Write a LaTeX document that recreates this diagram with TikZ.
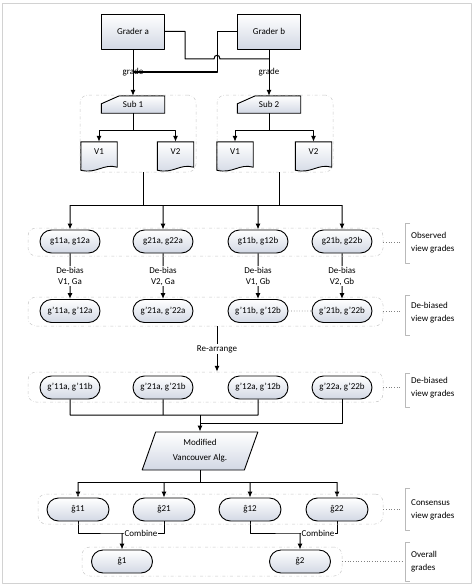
\documentclass[tikz,border=0pt]{standalone}
\usepackage{fontspec}
\setmainfont{Carlito}
\usetikzlibrary{arrows.meta,shapes.geometric,shapes.misc,backgrounds}
\definecolor{shadebot}{RGB}{210,216,228}

\begin{document}
\begin{tikzpicture}[x=1pt, y=-1pt, line join=round, >={Latex[length=6pt,width=5pt]}]

	\tikzset{txt/.style={font=\fontsize{9}{11}\selectfont, inner sep=1pt},
		softfill/.style={top color=white, bottom color=shadebot},
		grader/.style={draw, softfill, line width=0.9pt, minimum width=63pt, minimum height=35pt, txt},
		term/.style={draw, softfill, rounded rectangle, line width=0.9pt, minimum width=62pt, minimum height=23pt, txt},
		grp/.style={draw=gray!45, dash dot, rounded corners=8pt, line width=0.5pt},
		wire/.style={line width=1pt},
		brk/.style={draw=gray!55, line width=0.6pt},
		dots/.style={dotted, gray, line width=0.7pt},
		note/.style={txt, anchor=west, align=left, font=\fontsize{9}{13}\selectfont}}

	\useasboundingbox (0,0) rectangle (474,586);
	\draw[gray!35, line width=1pt] (2,4) rectangle (471,583);

	% graders
	\node[grader] (ga) at (133,31.5) {Grader a};
	\node[grader] (gb) at (269,31.5) {Grader b};
	\coordinate (ja) at (133,72);
	\coordinate (jb) at (269,59);
	\draw[wire] (ga.east) -| (185,59) -- (214,59) .. controls (214,54) and (220,54) .. (220,59) -- (jb);
	\draw[wire] (gb.west) -| (217,72) -- (ja);

	% submissions
	\node[txt, minimum width=63pt, minimum height=17pt] (sub1) at (133,104.5) {Sub 1};
	\node[txt, minimum width=63pt, minimum height=17pt] (sub2) at (269,104.5) {Sub 2};
	\node[txt, minimum width=36pt, minimum height=20pt] (v1a) at (99,152) {V1};
	\node[txt, minimum width=36pt, minimum height=20pt] (v2a) at (175.5,152) {V2};
	\node[txt, minimum width=36pt, minimum height=20pt] (v1b) at (235,152) {V1};
	\node[txt, minimum width=36pt, minimum height=20pt] (v2b) at (313.5,152) {V2};
	\begin{scope}[on background layer]
		\foreach \n in {sub1,sub2}
		\draw[softfill, line width=0.9pt] (\n.south west) -- ([yshift=-8pt]\n.north west) -- ([xshift=18pt]\n.north west) -- (\n.north east) -- (\n.south east) -- cycle;
		\foreach \n in {v1a,v2a,v1b,v2b}
		\draw[softfill, line width=0.9pt] (\n.north west) -- (\n.north east) -- ([yshift=-5pt]\n.south east) .. controls ([xshift=-14pt,yshift=-1pt]\n.south east) and ([xshift=16pt,yshift=-12pt]\n.south west) .. ([yshift=-8pt]\n.south west) -- cycle;
	\end{scope}

	\draw[wire,->] (ga) -- (sub1);
	\draw[wire,->] (gb) -- (sub2);
	\node[txt] (lga) at (133,72) {grade};
	\node[txt] (lgb) at (269,72) {grade};

	\coordinate (sa) at (133,130);
	\coordinate (sb) at (269,130);
	\draw[wire] (sub1) -- (sa);
	\draw[wire,->] (sa) -| (v1a);
	\draw[wire,->] (sa) -| (v2a);
	\draw[wire] (sub2) -- (sb);
	\draw[wire,->] (sb) -| (v1b);
	\draw[wire,->] (sb) -| (v2b);

	\node[grp, minimum width=116pt, minimum height=77pt] (s1) at (138,133.5) {};
	\node[grp, minimum width=116pt, minimum height=77pt] (s2) at (275,133.5) {};

	% observed view grades
	\foreach \n/\x/\t in {r1a/70/{g11a, g12a}, r1b/163/{g21a, g22a}, r1c/258/{g11b, g12b}, r1d/342/{g21b, g22b}}
	\node[term] (\n) at (\x,241.5) {\t};
	\coordinate (ra) at (143,205);
	\coordinate (rb) at (279,205);
	\draw[wire] ([xshift=5pt]s1.south) -- (ra);
	\draw[wire] ([xshift=4pt]s2.south) -- (rb);
	\draw[wire] (r1a.north |- ra) -- (r1d.north |- ra);
	\foreach \n in {r1a,r1b,r1c,r1d}
	\draw[wire,->] (\n.north |- ra) -- (\n);

	% de-biased view grades
	\foreach \n/\x/\t in {r2a/70/{g'11a, g'12a}, r2b/163/{g'21a, g'22a}, r2c/258/{g'11b, g'12b}, r2d/342/{g'21b, g'22b}}
	\node[term] (\n) at (\x,311) {\t};
	\foreach \a/\b/\t in {r1a/r2a/{V1, Ga}, r1b/r2b/{V2, Ga}, r1c/r2c/{V1, Gb}, r1d/r2d/{V2, Gb}}
	\draw[wire,->] (\a) -- node[txt, fill=white, align=center, name=db-\a] {De-bias\\\t} (\b);
	\draw[dots] (r2c) -- (r2d);

	% re-arranged
	\foreach \n/\x/\t in {r3a/70/{g'11a, g'11b}, r3b/163/{g'21a, g'21b}, r3c/258/{g'12a, g'12b}, r3d/342/{g'22a, g'22b}}
	\node[term] (\n) at (\x,387.5) {\t};

	\node[grp, minimum width=355pt, minimum height=28pt] (g1) at (205.5,242) {};
	\node[grp, minimum width=355pt, minimum height=29pt] (g2) at (205.5,311.5) {};
	\node[grp, minimum width=355pt, minimum height=30pt] (g3) at (205.5,387) {};

	\draw[wire,->] ([xshift=11.5pt]g2.south) -- node[txt, fill=white] (lre) {Re-arrange} ([xshift=11.5pt]g3.north);

	% vancouver
	\node[draw, softfill, trapezium, trapezium left angle=71, trapezium right angle=109, trapezium stretches=true, minimum width=116pt, minimum height=38pt, align=center, line width=0.9pt, font=\fontsize{9}{15}\selectfont, inner sep=1pt] (alg) at (200,451) {Modified\\Vancouver Alg.};
	\coordinate (ma) at (200,415);
	\coordinate (mb) at (200,423);
	\draw[wire] (r3a) |- (r3c.south |- ma) -- (r3c);
	\draw[wire] (r3b) -- (r3b.south |- ma);
	\draw[wire] (r3d) |- (mb);
	\draw[wire,->] (ma) -- (alg);

	% consensus view grades
	\foreach \n/\x/\t in {r4a/78/ĝ11, r4b/164/ĝ21, r4c/250/ĝ12, r4d/337/ĝ22}
	\node[term, minimum width=64pt] (\n) at (\x,509.5) {\t};
	\coordinate (na) at (200,482);
	\draw[wire] (alg) -- (na);
	\draw[wire] (r4a.north |- na) -- (r4d.north |- na);
	\foreach \n in {r4a,r4b,r4c,r4d}
	\draw[wire,->] (\n.north |- na) -- (\n);

	% overall grades
	\node[term, minimum width=63pt] (r5a) at (122,561.5) {ĝ1};
	\node[term, minimum width=63pt] (r5b) at (300,561.5) {ĝ2};
	\coordinate (cb1) at (122,533);
	\coordinate (cb2) at (300,533);
	\draw[wire] (r4a) |- (cb1) -| (r4b);
	\draw[wire] (r4c) |- (cb2) -| (r4d);
	\node[txt, fill=white] (cmb1) at (141,533) {Combine};
	\node[txt, fill=white] (cmb2) at (318,533) {Combine};
	\draw[wire,->] (cb1) -- (r5a);
	\draw[wire,->] (cb2) -- (r5b);

	\node[grp, minimum width=345pt, minimum height=30pt] (g4) at (210.5,509) {};
	\node[grp, minimum width=260pt, minimum height=29pt] (g5) at (212,561.5) {};

	% brackets
	\foreach \g/\y/\t/\b in {g1/242/223/263, g2/311.5/295/335, g3/387/373/407, g4/509/488/530, g5/561.5/542/581}
	{
		\coordinate (b-\g) at (402,\y);
		\draw[dots] (\g) -- (b-\g);
		\draw[brk] (410,\t) -| (405,\b) -- (410,\b);
	}
	\node[note] (n1) at (410,243) {Observed\\view grades};
	\node[note] (n2) at (410,313) {De-biased\\view grades};
	\node[note] (n3) at (410,388) {De-biased\\view grades};
	\node[note] (n4) at (410,510) {Consensus\\view grades};
	\node[note] (n5) at (410,562) {Overall\\grades};
\end{tikzpicture}
\end{document}
